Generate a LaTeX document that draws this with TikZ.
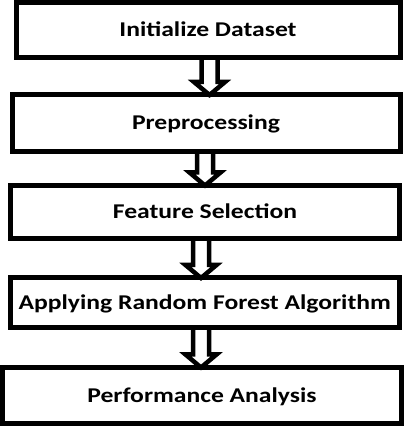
\documentclass[tikz,border=0pt]{standalone}
\usepackage{fontspec}
\newfontfamily\stagefont{Carlito}[FakeStretch=1.22]
\usetikzlibrary{calc}

% hollow block arrow between two stages, centred at x = #3
\newcommand{\flowarrow}[3]{%
  \draw[hollow] let \p1=(#1.south), \p2=(#2.north) in
    ({#3pt-8pt},{\y1+2.5pt}) -- ({#3pt-8pt},{\y2+10.5pt})
    -- ({#3pt-15.5pt},{\y2+10.5pt}) -- (#3pt,{\y2-2.5pt})
    -- ({#3pt+15.5pt},{\y2+10.5pt}) -- ({#3pt+8pt},{\y2+10.5pt})
    -- ({#3pt+8pt},{\y1+2.5pt});
}

\begin{document}
\begin{tikzpicture}[x=1pt,y=1pt,
  stage/.style={draw,line width=5pt,inner sep=0pt,text height=13pt,text depth=0pt,
    font=\stagefont\bfseries\fontsize{21}{24}\selectfont},
  hollow/.style={line width=4.5pt,line join=miter}]
  \useasboundingbox (0,0) rectangle (406,428);

  \node[stage,minimum width=384pt,minimum height=55.5pt] (init) at (208,397.75) {Initialize Dataset};
  \node[stage,minimum width=388pt,minimum height=56.5pt] (prep) at (206,304.75) {Preprocessing};
  \node[stage,minimum width=389pt,minimum height=53pt] (feat) at (205,216) {Feature Selection};
  \node[stage,minimum width=389.5pt,minimum height=50pt] (rf) at (204.75,125) {Applying Random Forest Algorithm};
  \node[stage,minimum width=399pt,minimum height=56.5pt] (perf) at (202,32.25) {Performance Analysis};

  \flowarrow{init}{prep}{209.5}
  \flowarrow{prep}{feat}{205}
  \flowarrow{feat}{rf}{201}
  \flowarrow{rf}{perf}{201}
\end{tikzpicture}
\end{document}
